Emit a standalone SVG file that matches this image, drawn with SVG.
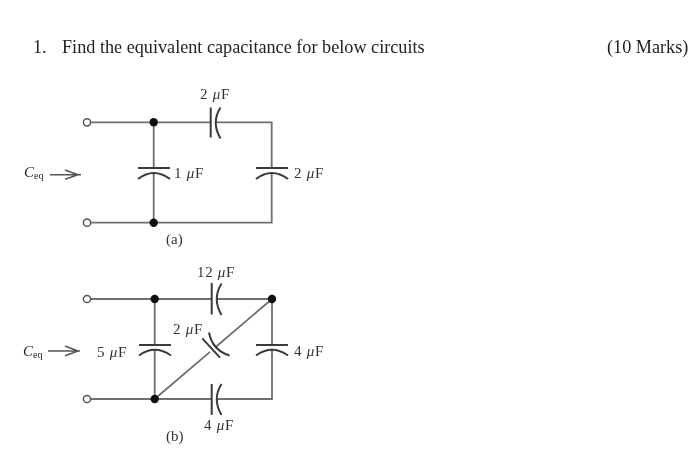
<svg xmlns="http://www.w3.org/2000/svg" width="700" height="455" viewBox="0 0 700 455">
<style>
.t{font-family:"Liberation Serif","Times New Roman",serif;fill:#222}
.h{font-size:18.2px}
.l{font-size:15px;fill:#333}
.u{letter-spacing:.7px}
.w{fill:none;stroke:#6f6f6f;stroke-width:1.8}
.p{fill:none;stroke:#3a3a3a;stroke-width:2}
.o{fill:#fff;stroke:#555;stroke-width:1.5}
.d{fill:#111}
.a{fill:none;stroke:#555;stroke-width:1.5}
</style>
<defs><filter id="soft" x="0" y="0" width="100%" height="100%"><feGaussianBlur stdDeviation="0.35"/></filter></defs>
<rect width="700" height="455" fill="#fff"/>
<g filter="url(#soft)">
<g id="heading">
<text class="t h" x="33" y="53">1.</text>
<text class="t h" x="62" y="53">Find the equivalent capacitance for below circuits</text>
<text class="t h" x="607" y="53">(10 Marks)</text>
</g>
<g id="connectors">
<path class="w" d="M90.500 122.300H210.700M215.700 122.300H271.700V168M271.700 173V222.700H90.500M153.700 122.300V168M153.700 173V222.700"/>
<path class="w" d="M90.500 299H211.700M216.700 299H272V345M272 350V399H216.700M90.500 399H211.700M154.700 299V345M154.700 350V399"/>
<path class="w" d="M154.700 399L210 351.900M215.700 347L272 299"/>
<path class="a" d="M50 174.700H81M65 170L78 174.700L65 179.300"/>
<path class="a" d="M48 351H80M65 346L78 351L65 355.700"/>
</g>
<g id="circuit-a">
<g id="a-term-top"><circle class="o" cx="87" cy="122.300" r="3.600"/></g>
<g id="a-term-bottom"><circle class="o" cx="87" cy="222.700" r="3.600"/></g>
<g id="a-node-top"><circle class="d" cx="153.700" cy="122.300" r="4.200"/></g>
<g id="a-node-bottom"><circle class="d" cx="153.700" cy="222.700" r="4.200"/></g>
<g id="a-c1"><path class="p" d="M210.700 107.500V137.500M220.500 107.500Q211 122.300 220.500 138.500"/><text class="t l u" x="200" y="99">2 <tspan font-style="italic">μ</tspan>F</text></g>
<g id="a-c2"><path class="p" d="M138 168H170M138 179Q153.700 167 170 179"/><text class="t l u" x="174" y="178">1 <tspan font-style="italic">μ</tspan>F</text></g>
<g id="a-c3"><path class="p" d="M256 168H288M256 179Q271.700 167 288 179"/><text class="t l u" x="294" y="178">2 <tspan font-style="italic">μ</tspan>F</text></g>
<text class="t" x="24" y="177" font-size="15" font-style="italic">C<tspan font-size="10" dy="2" font-style="normal">eq</tspan></text>
<text class="t l" x="166" y="244">(a)</text>
</g>
<g id="circuit-b">
<g id="b-term-top"><circle class="o" cx="87" cy="299" r="3.600"/></g>
<g id="b-term-bottom"><circle class="o" cx="87" cy="399" r="3.600"/></g>
<g id="b-node-top"><circle class="d" cx="154.700" cy="299" r="4.200"/></g>
<g id="b-node-right"><circle class="d" cx="272" cy="299" r="4.200"/></g>
<g id="b-node-bottom"><circle class="d" cx="154.700" cy="399" r="4.200"/></g>
<g id="b-c12"><path class="p" d="M211.700 283V314.500M221.500 283.500Q212 299 221.500 315"/><text class="t l u" x="197" y="277">12 <tspan font-style="italic">μ</tspan>F</text></g>
<g id="b-c5"><path class="p" d="M139 345H171M139 355.500Q154.700 344 171 355.500"/><text class="t l u" x="97" y="357">5 <tspan font-style="italic">μ</tspan>F</text></g>
<g id="b-c4r"><path class="p" d="M256 345H288M256 355.500Q272 344 288 355.500"/><text class="t l u" x="294" y="356">4 <tspan font-style="italic">μ</tspan>F</text></g>
<g id="b-c4b"><path class="p" d="M211.700 384V415M221.500 384Q212 399 221.500 415"/><text class="t l u" x="204" y="430">4 <tspan font-style="italic">μ</tspan>F</text></g>
<g id="b-c2"><path class="p" d="M202.300 338.300L220 357.700M209 332.500Q212.200 350 229.500 355.500"/><text class="t l u" x="173" y="334">2 <tspan font-style="italic">μ</tspan>F</text></g>
<text class="t" x="23" y="356" font-size="15" font-style="italic">C<tspan font-size="10" dy="2" font-style="normal">eq</tspan></text>
<text class="t l" x="166" y="441">(b)</text>
</g>
</g>
</svg>
